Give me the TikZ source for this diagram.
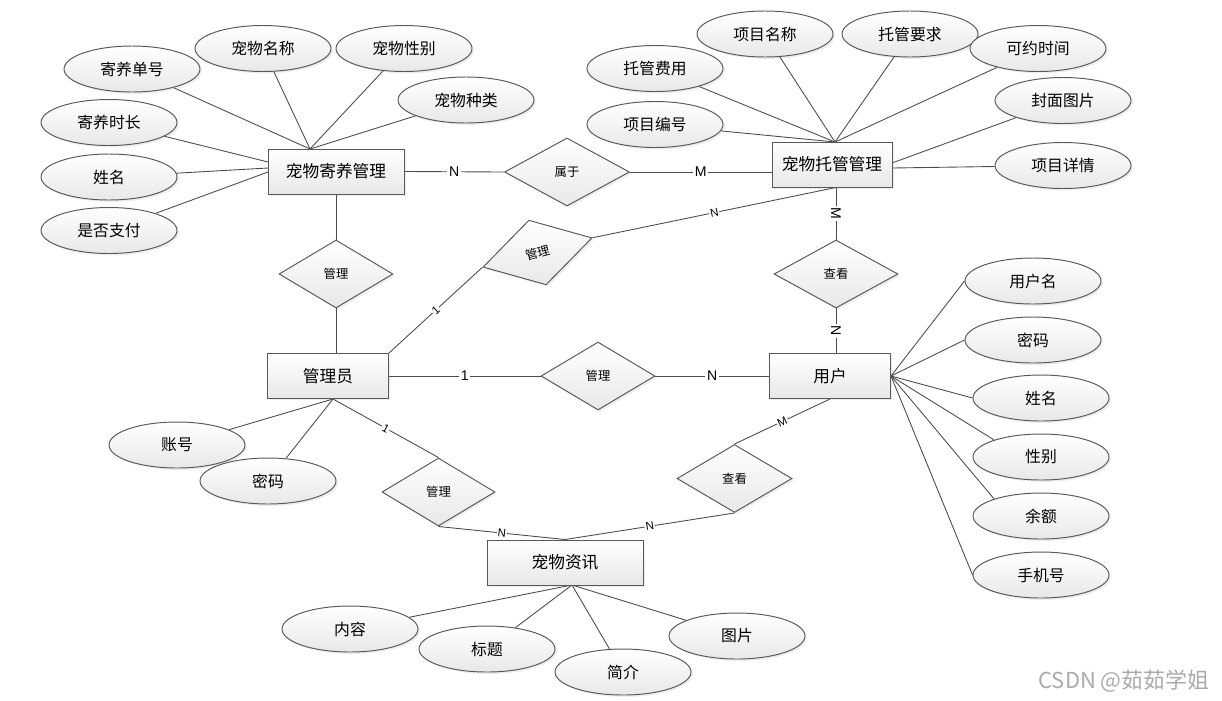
\documentclass[tikz,border=0pt]{standalone}
\usepackage{fontspec}
\setmainfont{Liberation Sans}
\newfontfamily\cjk{Noto Sans CJK SC}
\usetikzlibrary{shapes.geometric, shadows, backgrounds}

\tikzset{
    shade/.style={draw=black!65, line width=0.55pt, top color=white, bottom color=black!9,
        drop shadow={opacity=0.14, shadow xshift=1.1pt, shadow yshift=-1.1pt}},
    entity/.style={shade, rectangle, minimum height=0.9cm, inner sep=0pt, font=\cjk\fontsize{9.5}{11}\selectfont},
    attr/.style={shade, ellipse, minimum width=2.72cm, minimum height=0.92cm, inner sep=0pt, font=\cjk\fontsize{9}{11}\selectfont},
    rel/.style={shade, diamond, minimum width=2.28cm, minimum height=1.36cm, inner sep=0pt, font=\cjk\fontsize{7}{8}\selectfont},
    link/.style={draw=black!70, line width=0.5pt},
    card/.style={fill=white, inner sep=1pt, font=\fontsize{8}{9}\selectfont},
    cardsm/.style={fill=white, inner sep=0.5pt, font=\fontsize{6.5}{7}\selectfont}
}

\begin{document}
\begin{tikzpicture}[x=0.02cm, y=-0.02cm]
            \useasboundingbox (0, 0) rectangle (1222, 700);
            % entities
            \node [entity, minimum width=2.72cm] (jiyang) at (336, 171.5) {宠物寄养管理};
            \node [entity, minimum width=2.4cm] (tuoguan) at (832, 164.5) {宠物托管管理};
            \node [entity, minimum width=2.42cm] (admin) at (328, 376) {管理员};
            \node [entity, minimum width=2.42cm] (user) at (830, 376) {用户};
            \node [entity, minimum width=3.12cm] (zixun) at (565, 562.5) {宠物资讯};
            % relations
            \node [rel, minimum width=2.5cm] (shuyu) at (567, 172) {属于};
            \node [rel] (glA) at (336, 274) {管理};
            \node [rel, minimum width=2.26cm, minimum height=1.34cm, rotate=15] (glB) at (537.5, 252.5) {管理};
            \node [rel] (glC) at (598, 376) {管理};
            \node [rel, minimum width=2.26cm] (glD) at (438.5, 492) {管理};
            \node [rel, minimum width=2.48cm] (ckA) at (836, 274) {查看};
            \node [rel, minimum width=2.3cm] (ckB) at (734.5, 478.5) {查看};
            % attributes
            \node [attr] (jy1) at (132, 69) {寄养单号};
            \node [attr] (jy2) at (263, 48.5) {宠物名称};
            \node [attr] (jy3) at (404, 48.5) {宠物性别};
            \node [attr] (jy4) at (466, 100) {宠物种类};
            \node [attr] (jy5) at (109, 122.5) {寄养时长};
            \node [attr] (jy6) at (109, 177) {姓名};
            \node [attr] (jy7) at (109, 230.5) {是否支付};
            \node [attr] (tg1) at (765, 34) {项目名称};
            \node [attr] (tg2) at (910, 34) {托管要求};
            \node [attr] (tg3) at (1038, 48.5) {可约时间};
            \node [attr] (tg4) at (655, 68.5) {托管费用};
            \node [attr] (tg5) at (655, 124.5) {项目编号};
            \node [attr] (tg6) at (1063, 100.5) {封面图片};
            \node [attr] (tg7) at (1063, 165.5) {项目详情};
            \node [attr] (us1) at (1033, 281) {用户名};
            \node [attr] (us2) at (1033, 340) {密码};
            \node [attr] (us3) at (1041, 398) {姓名};
            \node [attr] (us4) at (1041, 457) {性别};
            \node [attr] (us5) at (1041, 516) {余额};
            \node [attr] (us6) at (1041, 575) {手机号};
            \node [attr] (ad1) at (177, 445) {账号};
            \node [attr] (ad2) at (268, 481) {密码};
            \node [attr] (zx1) at (350, 629) {内容};
            \node [attr] (zx2) at (487, 649) {标题};
            \node [attr] (zx3) at (623, 672) {简介};
            \node [attr] (zx4) at (737, 636) {图片};
            % meeting points
            \coordinate (jyT) at (310, 149);
            \coordinate (jyL1) at (268, 162);
            \coordinate (jyL2) at (268, 168);
            \coordinate (jyL3) at (268, 172);
            \coordinate (tgT) at (835, 142);
            \coordinate (tgR1) at (892, 163);
            \coordinate (tgR2) at (892, 168);
            \coordinate (tgB) at (tuoguan.south -| ckA.north);
            \coordinate (adB) at (333, 399);
            \coordinate (zxB) at (572, 585);
            \begin{scope}[on background layer]
            \foreach \n in {jy1, jy2, jy3, jy4} \draw [link] (\n) -- (jyT);
            \draw [link] (jy5) -- (jyL1);
            \draw [link] (jy6) -- (jyL2);
            \draw [link] (jy7) -- (jyL3);
            \foreach \n in {tg1, tg2, tg3, tg4, tg5} \draw [link] (\n) -- (tgT);
            \draw [link] (tg6) -- (tgR1);
            \draw [link] (tg7) -- (tgR2);
            \foreach \a in {us1.west, us2.west, us3.west, us4.160, us5.160, us6.west} \draw [link] (\a) -- (user.east);
            \foreach \n in {ad1, ad2} \draw [link] (\n) -- (adB);
            \foreach \n in {zx1, zx2, zx3, zx4} \draw [link] (\n) -- (zxB);
            % relationships
            \draw [link] (jiyang.east) -- node [card] {N} (shuyu.west);
            \draw [link] (shuyu.east) -- node [card] {M} (shuyu.east -| tuoguan.west);
            \draw [link] (jiyang.south) -- (glA.north);
            \draw [link] (glA.south) -- (glA.south |- admin.north);
            \draw [link] (admin.north east) -- node [cardsm, sloped] {1} (glB.west);
            \draw [link] (glB.east) -- node [cardsm, sloped] {N} (tgB);
            \draw [link] (tgB) -- node [card, rotate=-90] {M} (ckA.north);
            \draw [link] (ckA.south) -- node [card, rotate=-90] {N} (ckA.south |- user.north);
            \draw [link] (admin.east) -- node [card] {1} (glC.west);
            \draw [link] (glC.east) -- node [card] {N} (user.west);
            \draw [link] (adB) -- node [cardsm, sloped] {1} (glD.north);
            \draw [link] (glD.south) -- node [cardsm, sloped] {N} (zixun.north);
            \draw [link] (user.south) -- node [cardsm, sloped] {M} (ckB.north);
            \draw [link] (ckB.south) -- node [cardsm, sloped] {N} (zixun.north);
            \end{scope}
            \node [text=black!33, font=\cjk\fontsize{12.5}{14}\selectfont] (mark) at (1124, 681) {CSDN @茹茹学姐};
\end{tikzpicture}
\end{document}
